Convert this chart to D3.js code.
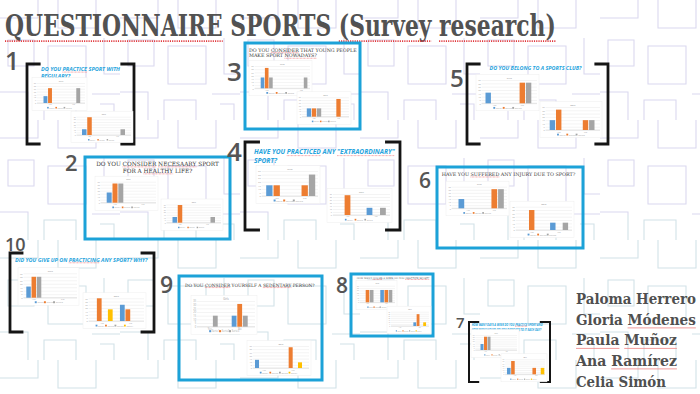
<!DOCTYPE html>
<html>
<head>
<meta charset="utf-8">
<script src="https://cdn.jsdelivr.net/npm/d3@7"></script>
<style>
  body { margin: 0; background: #fff; }
  svg { display: block; }
</style>
</head>
<body>
<div id="chart"></div>
<script>
// Survey answers, estimated from the slide (respondents per answer)
const categories = ["Yes", "No"];
const seriesNames = ["Serie1", "Serie2", "Serie3", "Serie4"];
const seriesColors = ["#5b9bd5", "#ed7d31", "#a5a5a5", "#ffc000"];
const chartTitles = ["Girls", "Boys"];
const yTicks = [0, 5, 10, 15, 20, 25, 30, 35];
const yMax = 35;

// one row per category: [blue, orange, gray, (yellow)]
const q1Girls = [[12, 26, 0], [0, 0, 26]];
const q1Boys = [[11, 34, 0], [0, 0, 11]];
const q2Girls = [[17, 32, 32], [0, 0, 0]];
const q2Boys = [[11, 34, 0], [0, 0, 11]];
const q3Girls = [[17, 32, 17], [0, 0, 17]];
const q3Boys = [[15, 15, 15], [0, 32, 0]];
const q4Girls = [[15, 15, 0], [0, 15, 30]];
const q4Boys = [[0, 33, 0], [12, 0, 12]];
const q5Girls = [[16, 0, 0], [0, 31, 31]];
const q5Boys = [[15, 31, 0], [0, 15, 15]];
const q6Girls = [[15, 0, 0], [0, 31, 31]];
const q6Boys = [[0, 30, 0], [11, 0, 11]];
const q7Girls = [[14, 31, 31], [0, 0, 0]];
const q7Boys = [[15, 31, 0, 0], [0, 15, 0, 15]];
const q8Girls = [[0, 26, 26], [26, 26, 26]];
const q8Boys = [[0, 0, 0, 0], [9, 29, 0, 9]];
const q9Girls = [[0, 0, 15], [15, 31, 15]];
const q9Boys = [[13, 0, 0, 0], [0, 33, 0, 9]];
const q10Girls = [[16, 30, 30], [0, 0, 0]];
const q10Boys = [[0, 35, 0, 18], [25, 18, 0, 0]];

const mainTitle = "QUESTIONNAIRE SPORTS (Survey research)";
const q1Title = ["DO YOU PRACTICE SPORT WITH", "REGULARY?"];
const q2Title = ["DO YOU CONSIDER NECESAARY SPORT", "FOR A HEALTHY LIFE?"];
const q3Title = ["DO YOU CONSIDER THAT YOUNG PEOPLE", "MAKE SPORT NOWADAYS?"];
const q4Title = ["HAVE YOU PRACTICED ANY \"EXTRAORDINARY\"", "SPORT?"];
const q5Title = ["DO YOU BELONG TO A SPORTS CLUB?"];
const q6Title = ["HAVE YOU SUFFERED ANY INJURY DUE TO SPORT?"];
const q7Title = ["HOW MANY DAYS A WEEK DO YOU PRACTICE SPORT AND", "HOW MANY HOURS DO YOU DEDICATE TO IT EACH DAY?"];
const q8Title = ["HOW MANY HOURS A WEEK DO YOU PRACTICE SPORT?"];
const q9Title = ["DO YOU CONSIDER YOURSELF A SEDENTARY PERSON?"];
const q10Title = ["DID YOU GIVE UP ON PRACTICING ANY SPORT? WHY?"];
const authors = ["Paloma Herrero", "Gloria Módenes", "Paula Muñoz", "Ana Ramírez", "Celia Simón"];

// layout of the prezi frames
const panels = [
  { num: "1", nx: 5, ny: 70, ns: 25, frame: "bracket", rect: [27, 64, 134, 144],
    title: q1Title, style: "blue", tx: 41, ty: [71, 78], tw: 79, anchor: "start", under: ["PRACTICE", "REGULARY?"],
    charts: [
      { data: q1Girls, x: [32, 87], y: [83, 103], c: [50, 73.7], cw: 13 },
      { data: q1Boys, x: [71, 133], y: [116.7, 135], c: [89.5, 117.5], cw: 15 }] },
  { num: "2", nx: 65, ny: 171, ns: 22, frame: "box", rect: [85, 157, 230, 239],
    title: q2Title, style: "dark", tx: 157.5, ty: [165.7, 172.7], tw: 123, anchor: "middle", under: ["CONSIDER", "NECESAARY", "HEALTHY"],
    charts: [
      { data: q2Girls, x: [95, 158], y: [181.7, 202.7], c: [115, 143], cw: 16.6 },
      { data: q2Boys, x: [161, 223], y: [204.5, 222.7], c: [180, 207.5], cw: 15 }] },
  { num: "3", nx: 227, ny: 81, ns: 26, frame: "box", rect: [245, 43, 360, 129],
    title: q3Title, style: "dark", tx: 249, ty: [51.7, 57.3], tw: 108, anchor: "start", under: ["CONSIDER", "NOWADAYS?"],
    charts: [
      { data: q3Girls, x: [249, 312], y: [66, 88.3], c: [266.7, 301.4], cw: 12 },
      { data: q3Boys, x: [297, 351], y: [97.3, 116.7], c: [314, 338.5], cw: 14.4 }] },
  { num: "4", nx: 227, ny: 161, ns: 26, frame: "bracket", rect: [245, 142, 400, 230],
    title: q4Title, style: "blue", tx: 254, ty: [154.3, 163.3], tw: 141, anchor: "start", under: ["PRACTICED", "\"EXTRAORDINARY\""],
    charts: [
      { data: q4Girls, x: [256, 320], y: [171, 196], c: [276.7, 304.7], cw: 21 },
      { data: q4Boys, x: [327, 392], y: [194, 215], c: [347.5, 376.2], cw: 19.2 }] },
  { num: "5", nx: 450, ny: 87, ns: 24, frame: "bracket", rect: [467, 64, 608, 144],
    title: q5Title, style: "blue", tx: 535.5, ty: [70], tw: 92, anchor: "middle", under: [],
    charts: [
      { data: q5Girls, x: [476, 539], y: [80, 103.3], c: [494.5, 522.3], cw: 18 },
      { data: q5Boys, x: [540, 602], y: [107, 130], c: [558.7, 585.5], cw: 18 }] },
  { num: "6", nx: 419, ny: 188, ns: 21, frame: "box", rect: [437, 167, 583, 248],
    title: q6Title, style: "dark", tx: 441.7, ty: [176], tw: 134, anchor: "start", under: ["SUFFERED"],
    charts: [
      { data: q6Girls, x: [446, 509], y: [186.7, 208.3], c: [468, 494.3], cw: 19 },
      { data: q6Boys, x: [510, 574], y: [206.7, 230], c: [531.7, 559.1], cw: 18 }] },
  { num: "7", nx: 456, ny: 328, ns: 15, frame: "bracket", rect: [469, 322, 550, 382],
    title: q7Title, style: "blue", tx: 471.7, ty: [325.7, 330.7], tw: 71, anchor: "start", under: ["PRACTICE", "DEDICATE"],
    charts: [
      { data: q7Girls, x: [471, 519], y: [335, 350], c: [485.5, 506.7], cw: 10 },
      { data: q7Boys, x: [501, 547], y: [359.3, 374.3], c: [515, 536.3], cw: 16 }] },
  { num: "8", nx: 336, ny: 293, ns: 21, frame: "box", rect: [351, 274, 433, 336],
    title: q8Title, style: "dark", tx: 356.7, ty: [279], tw: 73, anchor: "start", under: ["HOURS", "PRACTICE SPORT?"],
    charts: [
      { data: q8Girls, x: [356, 397], y: [285.7, 302.3], c: [367.5, 386.3], cw: 12 },
      { data: q8Boys, x: [387, 431], y: [311.7, 326], c: [400, 419.7], cw: 12.7 }] },
  { num: "9", nx: 160, ny: 293, ns: 23, frame: "box", rect: [179, 276, 322, 380],
    title: q9Title, style: "dark", tx: 185, ty: [286.7], tw: 130, anchor: "start", under: ["CONSIDER", "SEDENTARY"],
    charts: [
      { data: q9Girls, x: [191, 257], y: [301, 326.7], c: [209.7, 239.7], cw: 16 },
      { data: q9Boys, x: [247, 311], y: [346, 368], c: [264, 293], cw: 18 }] },
  { num: "10", nx: 5, ny: 251, ns: 18, frame: "bracket", rect: [10, 253, 154, 332],
    title: q10Title, style: "blue", tx: 15, ty: [261.7], tw: 133, anchor: "start", under: ["PRACTICING"],
    charts: [
      { data: q10Girls, x: [18, 79], y: [273.3, 297.7], c: [33.8, 62.7], cw: 15 },
      { data: q10Boys, x: [83, 146], y: [298.3, 321], c: [102, 130.6], cw: 21.3 }] }
];

const W = 700, H = 394;
const svg = d3.select("#chart").append("svg").attr("width", W).attr("height", H);

// background maze pattern
const defs = svg.append("defs");
function makePattern(id, color) {
  const p = defs.append("pattern").attr("id", id).attr("patternUnits", "userSpaceOnUse")
    .attr("width", 120).attr("height", 120);
  p.append("path")
    .attr("d", "M0,18H38V0 M58,0V28H96V0 M8,40h26v26h-26z M48,46H86V84H48Z M104,38V74H120 M0,92H28V120 M44,120V100H76V120 M92,94H120 M100,104h14v16")
    .attr("fill", "none").attr("stroke", color).attr("stroke-width", 1.1);
}
makePattern("bgTop", "#dad8ef");
makePattern("bgBot", "#d2e2e8");
svg.append("rect").attr("width", W).attr("height", H).attr("fill", "#fff");
svg.append("rect").attr("width", W).attr("height", 215).attr("fill", "url(#bgTop)");
svg.append("rect").attr("y", 215).attr("width", W).attr("height", H - 215).attr("fill", "url(#bgBot)");

// text helper: font is scaled so the first line gets the wanted width
// (or, with a fixed size, squeezed horizontally), then spell-check underlines are added
function drawText(lines, o) {
  const g = svg.append("g").attr("transform", `translate(${o.x},0)`);
  const texts = lines.map((line, i) => g.append("text")
    .attr("x", 0).attr("y", o.y[i])
    .attr("text-anchor", o.anchor || "start")
    .attr("font-family", o.family)
    .attr("font-weight", o.weight || "normal")
    .attr("font-style", o.italic ? "italic" : "normal")
    .attr("fill", o.color)
    .attr("font-size", 10)
    .text(line));
  const len = texts[0].node().getComputedTextLength();
  let fs = 10 * o.width / len;
  if (o.size) {
    fs = o.size;
    const sx = Math.min(1, o.width / (len * fs / 10));
    g.attr("transform", `translate(${o.x},0) scale(${sx},1)`);
  }
  texts.forEach(t => t.attr("font-size", fs));
  texts.forEach((t, i) => {
    const node = t.node();
    (o.under || []).forEach(word => {
      const k = lines[i].indexOf(word);
      if (k < 0) return;
      const a = node.getStartPositionOfChar(k).x;
      const b = node.getEndPositionOfChar(k + word.length - 1).x;
      g.append("line")
        .attr("x1", a).attr("x2", b)
        .attr("y1", o.y[i] + fs * o.uOff).attr("y2", o.y[i] + fs * o.uOff)
        .attr("stroke", o.uColor || "#e2373d")
        .attr("stroke-width", Math.max(0.5, fs * 0.06))
        .attr("stroke-dasharray", o.uDash || null);
    });
  });
  return fs;
}

function drawBracket(r, sw) {
  const [x0, y0, x1, y1] = r;
  const s = (y1 - y0) * 0.17;
  svg.append("path")
    .attr("d", `M${x0 + s},${y0}H${x0}V${y1}H${x0 + s} M${x1 - s},${y0}H${x1}V${y1}H${x1 - s}`)
    .attr("fill", "none").attr("stroke", "#151515").attr("stroke-width", sw);
}

function drawBox(r) {
  const [x0, y0, x1, y1] = r;
  svg.append("rect").attr("x", x0).attr("y", y0).attr("width", x1 - x0).attr("height", y1 - y0)
    .attr("fill", "none").attr("stroke", "#1ca2d8").attr("stroke-width", 3);
}

// one small excel-like clustered column chart
function drawMiniChart(c, title) {
  const [bx0, bx1] = c.x;
  const [py0, py1] = c.y;
  const g = svg.append("g");
  g.append("rect")
    .attr("x", bx0).attr("y", py0 - 5.5)
    .attr("width", bx1 - bx0).attr("height", py1 - py0 + 13)
    .attr("fill", "#fff").attr("stroke", "#ededed").attr("stroke-width", 0.5);

  const nSer = c.data[0].length;
  const step = c.c[1] - c.c[0];
  const pad = 1 - c.cw / step;
  const x0 = d3.scaleBand().domain(categories)
    .range([c.c[0] - step / 2, c.c[1] + step / 2])
    .paddingInner(pad).paddingOuter(pad / 2);
  const x1 = d3.scaleBand().domain(d3.range(nSer)).range([0, x0.bandwidth()]).paddingInner(0.14);
  const y = d3.scaleLinear().domain([0, yMax]).range([py1, py0]);
  const gx0 = bx0 + (bx1 - bx0) * 0.09, gx1 = bx1 - 2;
  const fs = Math.max(1.5, (py1 - py0) * 0.1);

  const ay = g.append("g").attr("transform", `translate(${gx0},0)`)
    .call(d3.axisLeft(y).tickValues(yTicks).tickSize(-(gx1 - gx0)).tickPadding(0.8));
  ay.select(".domain").remove();
  ay.selectAll("line").attr("stroke", "#e2e2e2").attr("stroke-width", 0.4);
  ay.selectAll("text").attr("font-size", fs).attr("fill", "#a8a8a8").attr("font-family", "Open Sans");

  g.append("line").attr("x1", gx0).attr("x2", gx1).attr("y1", py1).attr("y2", py1)
    .attr("stroke", "#cfcfcf").attr("stroke-width", 0.5);

  const ax = g.append("g").attr("transform", `translate(0,${py1})`)
    .call(d3.axisBottom(x0).tickSize(0).tickPadding(1));
  ax.select(".domain").remove();
  ax.selectAll("text").attr("font-size", fs).attr("fill", "#a8a8a8").attr("font-family", "Open Sans");

  g.append("g").selectAll("g").data(c.data).join("g")
    .attr("transform", (d, i) => `translate(${x0(categories[i])},0)`)
    .selectAll("rect").data(d => d).join("rect")
    .attr("x", (v, j) => x1(j))
    .attr("width", x1.bandwidth())
    .attr("y", v => y(v))
    .attr("height", v => py1 - y(v))
    .attr("fill", (v, j) => seriesColors[j]);

  g.append("text")
    .attr("x", (gx0 + gx1) / 2).attr("y", py0 - 1.3)
    .attr("text-anchor", "middle")
    .attr("font-family", "Open Sans").attr("font-size", fs).attr("fill", "#8c8c8c")
    .text(title);

  const entryW = (bx1 - bx0) * 0.15;
  const lx = (bx0 + bx1) / 2 - entryW * nSer / 2;
  const leg = g.append("g").selectAll("g").data(seriesNames.slice(0, nSer)).join("g")
    .attr("transform", (d, j) => `translate(${lx + j * entryW},${py1 + 5.5})`);
  leg.append("rect").attr("y", -fs * 0.8).attr("width", fs * 0.8).attr("height", fs * 0.8)
    .attr("fill", (d, j) => seriesColors[j]);
  leg.append("text").attr("x", fs * 1.1).attr("font-size", fs).attr("fill", "#a8a8a8")
    .attr("font-family", "Open Sans").text(d => d);
}

// title
drawText([mainTitle], {
  x: 5, y: [36.5], width: 551, size: 29, family: "DejaVu Serif", weight: "bold", color: "#525252",
  under: ["QUESTIONNAIRE", "(Survey", "research)"], uOff: 0.16, uDash: "1.5,1.5", uColor: "#e0383d"
});

panels.forEach(p => {
  if (p.frame === "bracket") drawBracket(p.rect, p.num === "7" ? 2 : 2.8);
  else drawBox(p.rect);

  svg.append("text")
    .attr("x", p.nx).attr("y", p.ny)
    .attr("font-family", "Open Sans").attr("font-weight", 600)
    .attr("font-size", p.ns).attr("fill", "#555")
    .text(p.num);

  const blue = p.style === "blue";
  drawText(p.title, {
    x: p.tx, y: p.ty, width: p.tw, anchor: p.anchor,
    family: blue ? "Open Sans" : "DejaVu Serif",
    weight: blue ? 700 : "normal", italic: blue,
    color: blue ? "#27a4dd" : "#3b3b3b",
    under: p.under, uOff: 0.2, uDash: "0.8,0.6", uColor: "#e2373d"
  });

  p.charts.forEach((c, i) => drawMiniChart(c, chartTitles[i]));
});

// authors
const nameY = [304, 325, 345.5, 366, 387];
authors.forEach((name, i) => {
  drawText([name], {
    x: 576, y: [nameY[i]], width: [120, 120, 101, 101, 90][i], size: 14.5,
    family: "DejaVu Serif", weight: "bold", color: "#4f4f4f",
    under: ["Módenes", "Paula", "Muñoz", "Ramírez"], uOff: 0.2, uColor: "#f08a8a"
  });
});
</script>
</body>
</html>
